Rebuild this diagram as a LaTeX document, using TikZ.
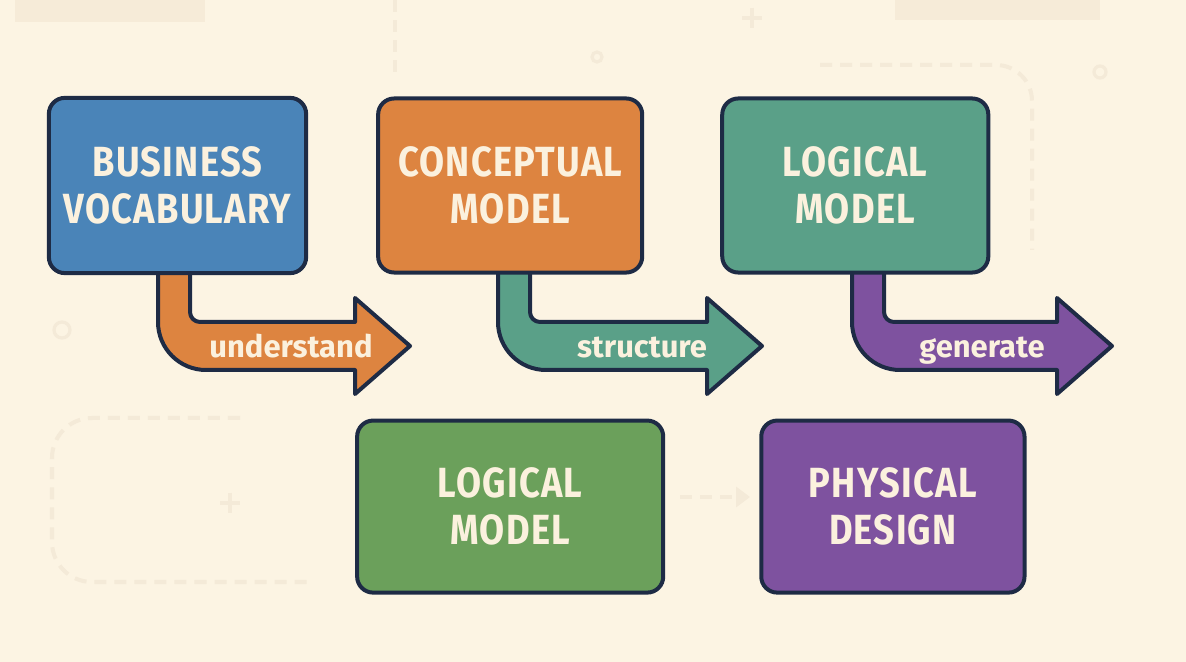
\documentclass[tikz,border=0pt]{standalone}
\usepackage{fontspec}
\usepackage{tikz}
\usetikzlibrary{positioning,arrows.meta}
\setsansfont{Fira Sans}
\newfontfamily\boxfont[FakeStretch=0.86, LetterSpace=3]{Fira Sans}
\definecolor{PaperCream}{HTML}{FCF4E3}
\definecolor{GhostLine}{HTML}{F4EAD8}
\definecolor{GhostFill}{HTML}{F6EBD8}
\definecolor{InkNavy}{HTML}{1E2B45}
\definecolor{TextCream}{HTML}{FBF1DE}
\definecolor{VocabBlue}{HTML}{4A84B8}
\definecolor{ConceptOrange}{HTML}{DD8440}
\definecolor{LogicTeal}{HTML}{5AA088}
\definecolor{LogicGreen}{HTML}{6BA05B}
\definecolor{DesignPurple}{HTML}{7E529F}

\begin{document}
\begin{tikzpicture}[x=0.025cm, y=-0.025cm, node distance=1.7cm,
  every node/.style={font=\sffamily}]
  \tikzstyle{stagebox}=[rectangle, rounded corners=0.4cm, draw=InkNavy, line width=0.1cm,
  text=TextCream, align=center, font=\boxfont\bfseries\fontsize{30}{33}\selectfont]
  \tikzstyle{flowarrow}=[draw=InkNavy, line width=0.1cm, line join=round]
  \tikzstyle{flowlabel}=[text=TextCream, anchor=base, font=\sffamily\bfseries\fontsize{22}{24}\selectfont]
  \tikzstyle{ghost}=[draw=GhostLine, line width=0.1cm, dash pattern=on 0.3cm off 0.2cm]

  % page and faint background marks
  \fill[PaperCream] (0,0) rectangle (1186,662);
  \useasboundingbox (0,0) rectangle (1186,662);
  \fill[GhostFill] (15,0) rectangle (205,22);
  \fill[GhostFill] (895,0) rectangle (1100,20);
  \draw[ghost] (395,0) -- (395,75);
  \draw[ghost, rounded corners=0.9cm] (820,65) -- (1032,65) -- (1032,250);
  \draw[ghost, rounded corners=1cm] (240,418) -- (52,418) -- (52,582) -- (307,582);
  \draw[ghost, -{Triangle[length=0.35cm, width=0.5cm]}] (680,497) -- (750,497);
  \draw[GhostLine, line width=0.08cm] (597,57) circle (5) (1100,72) circle (6) (62,330) circle (8);
  \draw[GhostLine, line width=0.08cm] (742,18) -- (762,18) (752,8) -- (752,28)
    (220,503) -- (240,503) (230,493) -- (230,513);

  % bent flow arrows
  \foreach \vx/\hx/\col/\lab/\lx/\nm in {158/355/ConceptOrange/understand/291/understand,
      498/707/LogicTeal/structure/642/structure, 852/1057/DesignPurple/generate/982/generate} {
    \draw[flowarrow, fill=\col] (\vx,262) -- (\vx,322)
      .. controls (\vx,348.5) and (\vx+21.5,370) .. (\vx+48,370) -- (\hx,370) -- (\hx,394)
      -- (\hx+55,346) -- (\hx,298) -- (\hx,322) -- (\vx+42,322)
      .. controls (\vx+36.5,322) and (\vx+32,317.5) .. (\vx+32,312) -- (\vx+32,262) -- cycle;
    \node[flowlabel] (\nm) at (\lx,358) {\lab};
  }

  % stage boxes
  \node[stagebox, fill=VocabBlue, minimum width=6.43cm, minimum height=4.38cm]
    (vocab) at (177.5,185.5) {BUSINESS\\VOCABULARY};
  \node[stagebox, fill=ConceptOrange, minimum width=6.6cm, minimum height=4.35cm,
    right=1.7cm of vocab] (concept) {CONCEPTUAL\\MODEL};
  \node[stagebox, fill=LogicTeal, minimum width=6.65cm, minimum height=4.35cm,
    right=1.9cm of concept] (logical) {LOGICAL\\MODEL};
  \node[stagebox, fill=LogicGreen, minimum width=7.65cm, minimum height=4.3cm,
    below=3.6cm of concept] (logicalb) {LOGICAL\\MODEL};
  \node[stagebox, fill=DesignPurple, minimum width=6.58cm, minimum height=4.3cm,
    right=2.35cm of logicalb] (physical) {PHYSICAL\\DESIGN};
\end{tikzpicture}
\end{document}
